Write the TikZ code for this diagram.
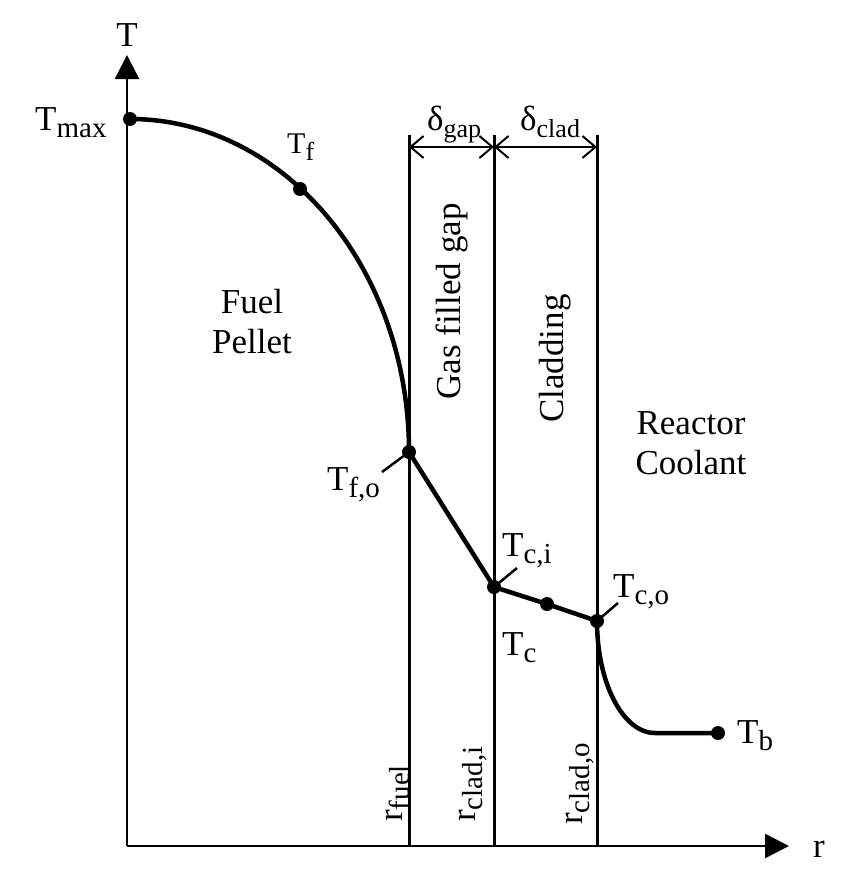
\documentclass[tikz,border=0pt]{standalone}
\usepackage{fontspec}
\setmainfont{Liberation Serif}
\usetikzlibrary{arrows.meta}

\tikzset{
  axis/.style={line width=2.5pt, -{Triangle[length=24pt,width=24pt]}},
  wall/.style={line width=3pt},
  profile/.style={line width=4.5pt},
  dimline/.style={line width=2pt, {Straight Barb[length=13pt,width=22pt]}-{Straight Barb[length=13pt,width=22pt]}},
  leader/.style={line width=2.5pt},
  lbl/.style={font=\fontsize{35}{40}\selectfont, inner sep=0pt},
  small/.style={font=\fontsize{30}{36}\selectfont, inner sep=0pt},
}

\newcommand{\tdot}[1]{\fill (#1) circle (7pt)}
\newcommand{\lsub}[2][29]{\raisebox{-7pt}{\fontsize{#1}{#1}\selectfont #2}}

\begin{document}
\begin{tikzpicture}[x=1pt, y=-1pt]
    \useasboundingbox (0,0) rectangle (854,876);

    % axes
    \coordinate (O) at (127,846);
    \coordinate (Ttip) at (127,55);
    \coordinate (rtip) at (789,846);
    \draw[axis] (O) -- (Ttip);
    \draw[axis] (O) -- (rtip);
    \node[lbl, anchor=base] (Tlab) at (127,46) {T};
    \node[lbl, anchor=base west] (rlab) at (813,857) {r};

    % walls
    \coordinate (fuelTop) at (409,135);  \coordinate (fuelBot) at (409,846);
    \coordinate (cliTop) at (494,135);   \coordinate (cliBot) at (494,846);
    \coordinate (cloTop) at (597,135);   \coordinate (cloBot) at (597,846);
    \draw[wall] (fuelTop) -- (fuelBot);
    \draw[wall] (cliTop) -- (cliBot);
    \draw[wall] (cloTop) -- (cloBot);

    % thicknesses
    \coordinate (dA) at (409,147);
    \coordinate (dB) at (494,147);
    \coordinate (dC) at (597,147);
    \draw[dimline] (dA) -- (dB);
    \draw[dimline] (dB) -- (dC);
    \node[lbl, anchor=base west] (dgap) at (427,130) {δ\lsub[26]{gap}};
    \node[lbl, anchor=base west] (dclad) at (520,130) {δ\lsub[26]{clad}};

    % region names
    \node[lbl, align=center] (pellet) at (252,322) {Fuel\\Pellet};
    \node[lbl, rotate=90, anchor=base west] (gas) at (460,400) {Gas filled gap};
    \node[lbl, rotate=90, anchor=base west] (clad) at (563,423) {Cladding};
    \node[lbl, align=center] (coolant) at (691,443) {Reactor\\Coolant};

    % radii
    \node[lbl, rotate=90, anchor=base west] (rfuel) at (402,822) {r\lsub{fuel}};
    \node[lbl, rotate=90, anchor=base west] (rcli) at (475,822) {r\lsub{clad,i}};
    \node[lbl, rotate=90, anchor=base west] (rclo) at (582,825) {r\lsub{clad,o}};

    % temperature profile
    \coordinate (Tmax) at (130,119);
    \coordinate (Tf) at (300,189);
    \coordinate (Tfo) at (409,452);
    \coordinate (Tci) at (494,587);
    \coordinate (Tc) at (547,604);
    \coordinate (Tco) at (597,621);
    \coordinate (bend) at (655,733);
    \coordinate (Tb) at (718,733);
    \draw[profile] (Tmax) .. controls (284,119) and (409,268) .. (Tfo)
        -- (Tci) -- (Tc) -- (Tco)
        .. controls (597,683) and (623,733) .. (bend) -- (Tb);
    \foreach \p in {Tmax,Tf,Tfo,Tci,Tc,Tco,Tb} {\tdot{\p};}

    % leaders
    \coordinate (TfoEnd) at (382,472);
    \coordinate (TciEnd) at (517,568);
    \coordinate (TcoEnd) at (618,603);
    \draw[leader] (Tfo) -- (TfoEnd);
    \draw[leader] (Tci) -- (TciEnd);
    \draw[leader] (Tco) -- (TcoEnd);

    % temperature labels
    \node[lbl, anchor=base west] (TmaxLab) at (35,130) {T\lsub{max}};
    \node[small, anchor=base west] (TfLab) at (287,153) {T\lsub[26]{f}};
    \node[lbl, anchor=base west] (TfoLab) at (327,490) {T\lsub{f,o}};
    \node[lbl, anchor=base west] (TciLab) at (502,556) {T\lsub{c,i}};
    \node[lbl, anchor=base west] (TcLab) at (502,655) {T\lsub{c}};
    \node[lbl, anchor=base west] (TcoLab) at (613,597) {T\lsub{c,o}};
    \node[lbl, anchor=base west] (TbLab) at (737,743) {T\lsub{b}};
\end{tikzpicture}
\end{document}
